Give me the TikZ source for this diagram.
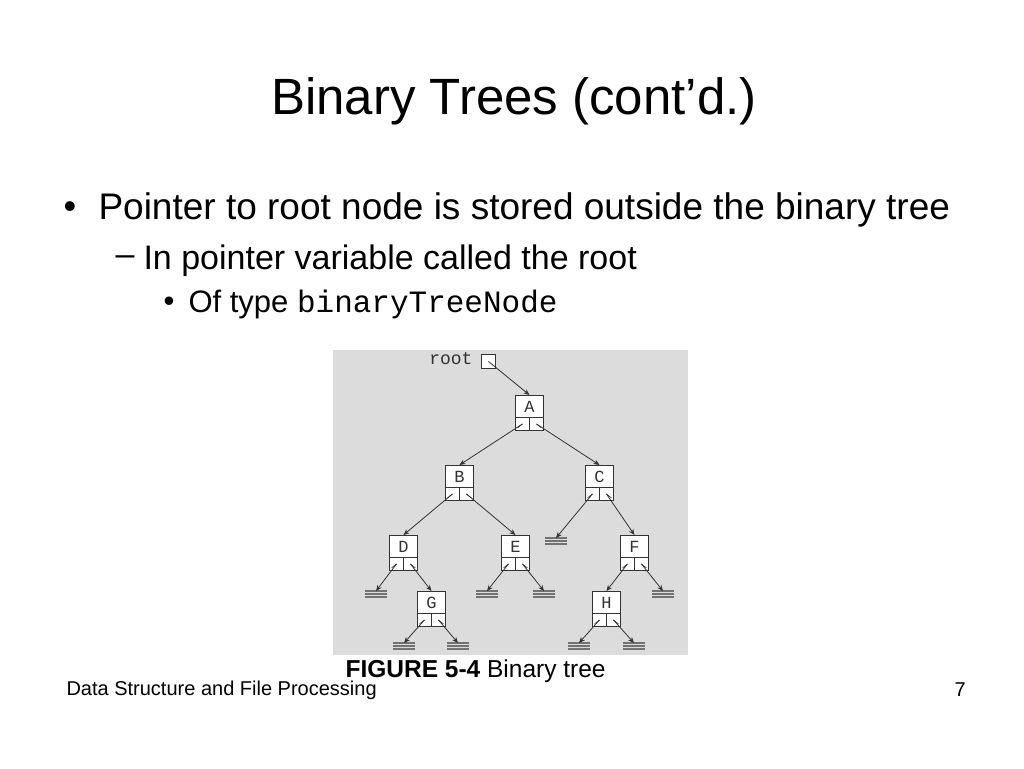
\documentclass[tikz,border=0pt]{standalone}
\usepackage{fontspec}
\setmainfont{Liberation Sans}
\setmonofont{Liberation Mono}
\usetikzlibrary{arrows.meta}
\definecolor{figbg}{HTML}{DCDCDC}
\definecolor{ln}{HTML}{333333}
\tikzset{
  top/.style={draw=ln,fill=white,line width=0.9pt,minimum width=28pt,minimum height=22pt,inner sep=0pt,anchor=north west,font=\ttfamily\fontsize{17}{17}\selectfont,text=ln},
  half/.style={draw=ln,fill=white,line width=0.9pt,minimum width=14pt,minimum height=13pt,inner sep=0pt,anchor=north west},
  ptr/.style={draw=ln,line width=0.8pt,-{Stealth[length=6pt,width=5pt]}},
  gnd/.style={draw=gray!90!black,line width=1.3pt}
}
\newcommand{\tnode}[4]{%
  \node[top] (#1) at (#3,#4) {#2};
  \node[half] (#1l) at (#3,#4+22) {};
  \node[half] (#1r) at (#3+14,#4+22) {};
  \draw[ln,line width=0.6pt] (#1l.center) -- ++(-5,4);
  \draw[ln,line width=0.6pt] (#1r.center) -- ++(5,4);}
\newcommand{\gnd}[3]{%
  \coordinate (#1) at (#2,#3);
  \draw[gnd] (#2-11,#3) -- (#2+11,#3) (#2-11,#3+3) -- (#2+11,#3+3) (#2-11,#3+6) -- (#2+11,#3+6);}
\begin{document}
\begin{tikzpicture}[x=1pt,y=-1pt]
\useasboundingbox (0,0) rectangle (1024,768);
\fill[white] (0,0) rectangle (1024,768);
\node[font=\fontsize{51}{51}\selectfont] (title) at (514,101) {Binary Trees (cont’d.)};
\node[anchor=west,font=\fontsize{36}{36}\selectfont] (b1dot) at (60,210) {•};
\node[anchor=west,font=\fontsize{37}{37}\selectfont] (b1) at (95,210) {Pointer to root node is stored outside the binary tree};
\node[anchor=west,font=\fontsize{34}{34}\selectfont] (b2dash) at (112,261) {–};
\node[anchor=west,font=\fontsize{34}{34}\selectfont] (b2) at (140,261) {In pointer variable called the root};
\node[anchor=west,font=\fontsize{31}{31}\selectfont] (b3dot) at (160,304) {•};
\node[anchor=west,font=\fontsize{31}{31}\selectfont] (b3) at (185,304) {Of type \texttt{binaryTreeNode}};
\fill[figbg] (333,350) rectangle (688,655);
\node[font=\ttfamily\fontsize{18}{18}\selectfont,text=ln,anchor=east] (rootlbl) at (476,359) {root};
\node[draw=ln,fill=white,line width=0.9pt,minimum size=14pt,inner sep=0pt,anchor=north west] (root) at (481,354) {};
\tnode{A}{A}{515}{395}
\tnode{B}{B}{445}{465}
\tnode{C}{C}{585}{465}
\tnode{D}{D}{389}{535}
\tnode{E}{E}{501}{535}
\tnode{F}{F}{620}{535}
\tnode{G}{G}{417}{591}
\tnode{H}{H}{592}{591}
\gnd{gC}{556}{538}
\gnd{gD}{376}{591}
\gnd{gEl}{487}{591}
\gnd{gEr}{544}{591}
\gnd{gF}{663}{591}
\gnd{gGl}{404}{643}
\gnd{gGr}{458}{643}
\gnd{gHl}{579}{643}
\gnd{gHr}{634}{643}
\draw[ptr] (root.center) -- (A.north);
\draw[ptr] (Al.center) -- (B.north);
\draw[ptr] (Ar.center) -- (C.north);
\draw[ptr] (Bl.center) -- (D.north);
\draw[ptr] (Br.center) -- (E.north);
\draw[ptr] (Cl.center) -- (gC);
\draw[ptr] (Cr.center) -- (F.north);
\draw[ptr] (Dl.center) -- (gD);
\draw[ptr] (Dr.center) -- (G.north);
\draw[ptr] (El.center) -- (gEl);
\draw[ptr] (Er.center) -- (gEr);
\draw[ptr] (Fl.center) -- (H.north);
\draw[ptr] (Fr.center) -- (gF);
\draw[ptr] (Gl.center) -- (gGl);
\draw[ptr] (Gr.center) -- (gGr);
\draw[ptr] (Hl.center) -- (gHl);
\draw[ptr] (Hr.center) -- (gHr);
\node[anchor=west,font=\fontsize{24.5}{24.5}\selectfont] (cap) at (342,671) {\textbf{FIGURE 5-4} Binary tree};
\node[anchor=west,font=\fontsize{20}{20}\selectfont] (foot) at (63,690) {Data Structure and File Processing};
\node[anchor=west,font=\fontsize{20}{20}\selectfont] (pg) at (951,690) {7};
\end{tikzpicture}
\end{document}
